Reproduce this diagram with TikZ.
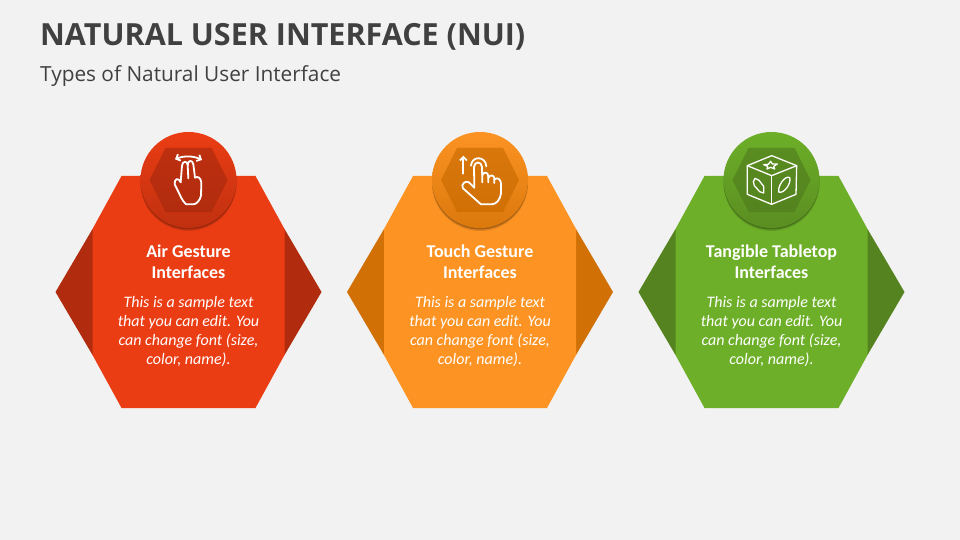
\documentclass[tikz,border=0pt]{standalone}
\usepackage{fontspec}
\usetikzlibrary{arrows.meta}
\setmainfont{Carlito}
\newfontfamily\titlefont{Open Sans}
\definecolor{pagebg}{HTML}{F2F2F2}
\definecolor{titlegray}{HTML}{404040}
\definecolor{airmain}{HTML}{EB3D14}
\definecolor{airdark}{HTML}{B12C0E}
\definecolor{touchmain}{HTML}{FC9323}
\definecolor{touchdark}{HTML}{D07005}
\definecolor{tablemain}{HTML}{6DAF28}
\definecolor{tabledark}{HTML}{54831F}
\tikzset{
  headtext/.style={inner sep=0pt,text=white,align=center,font=\fontsize{18}{21}\selectfont\bfseries},
  bodytext/.style={inner sep=0pt,text=white,align=center,font=\fontsize{16}{19.3}\selectfont\itshape},
  iconline/.style={draw=white,line width=1.8pt,line cap=round,line join=round,>={Straight Barb[length=3.5pt,width=7pt]}},
  cubeline/.style={iconline,line width=1.3pt}
}
\begin{document}
\begin{tikzpicture}[x=1pt,y=-1pt]
  \useasboundingbox (0,0) rectangle (960,540);
  \fill[pagebg] (0,0) rectangle (960,540);
  \node[anchor=west,inner sep=0pt,text=titlegray,font=\fontsize{30.5}{36}\selectfont\titlefont\bfseries] (maintitle) at (40,36.5) {NATURAL USER INTERFACE (NUI)};
  \node[anchor=west,inner sep=0pt,text=titlegray,font=\fontsize{20.8}{24}\selectfont\titlefont] (subtitle) at (40,76) {Types of Natural User Interface};

  \foreach \cx/\kind/\headname in {188.5/air/{Air Gesture\\Interfaces},480/touch/{Touch Gesture\\Interfaces},771.5/table/{Tangible Tabletop\\Interfaces}}{
    \begin{scope}[shift={(\cx,0)}]
      \fill[\kind dark] (-133,292) -- (-96,229) -- (96,229) -- (133,292) -- (96,355) -- (-96,355) -- cycle;
      \fill[\kind main] (-96,229) -- (-67,176) -- (67,176) -- (96,229) -- (96,355) -- (67,408) -- (-67,408) -- (-96,355) -- cycle;
      \fill[black,opacity=.12] (0,183) circle[radius=48];
      \fill[black,opacity=.25] (0,181.5) circle[radius=48];
      \shade[top color=\kind main,bottom color=\kind dark!75!\kind main] (0,180) circle[radius=48];
      \shade[top color=\kind dark!80!\kind main,bottom color=\kind dark] (-39,180) -- (-23,148) -- (23,148) -- (39,180) -- (23,212) -- (-23,212) -- cycle;
      \node[headtext] (head\kind) at (0,261.5) {\headname};
      \node[bodytext] (body\kind) at (0,331.5) {This is a sample text\\that you can edit. You\\can change font (size,\\color, name).};
    \end{scope}
  }

  % swipe hand
  \begin{scope}[shift={(130,125)},scale=1/3]
    \draw[iconline,<->] (135,103) .. controls (160,92) and (190,92) .. (216,105);
    \draw[iconline] (152,172) -- (156,122) .. controls (157,108) and (172,106) .. (173,120) -- (175,160);
    \draw[iconline] (173,120) .. controls (174,104) and (188,104) .. (190,118) -- (195,158) .. controls (205,152) and (212,160) .. (214,172) -- (213,212) .. controls (210,225) and (200,238) .. (190,238) -- (168,238) .. controls (155,225) and (150,210) .. (145,200) -- (134,178) .. controls (132,162) and (145,155) .. (152,172);
  \end{scope}

  % touch hand
  \begin{scope}[shift={(425,125)},scale=1/3]
    \draw[iconline,->] (115,146) -- (115,92);
    \draw[iconline] (138,122) .. controls (140,92) and (182,92) .. (184,124);
    \draw[iconline] (148,188) -- (147,126) .. controls (148,108) and (170,108) .. (171,126) -- (172,172);
    \draw[iconline] (172,150) .. controls (178,138) and (190,142) .. (190,155) -- (190,172);
    \draw[iconline] (190,158) .. controls (196,148) and (207,150) .. (208,160) -- (208,174);
    \draw[iconline] (208,164) .. controls (216,155) and (227,162) .. (228,175) -- (228,205) .. controls (226,222) and (215,238) .. (200,238) -- (168,238) -- (114,190) .. controls (106,178) and (122,165) .. (132,172) -- (148,188);
  \end{scope}

  % cube
  \begin{scope}[shift={(715,125)},scale=1/3]
    \draw[cubeline] (170,92) -- (245,122) -- (243,208) -- (170,238) -- (97,208) -- (97,122) -- cycle;
    \draw[cubeline] (97,122) -- (170,152) -- (245,122);
    \draw[cubeline] (170,152) -- (170,238);
    \draw[cubeline] (146,119) -- (160,118) -- (167,109) -- (172,117) -- (187,117) -- (176,124) -- (179,132) -- (167,127) -- (156,132) -- (158,124) -- cycle;
    \draw[cubeline] (120,160) -- (132,166) -- (146,184) -- (146,204) -- (134,200) -- (118,182) -- (115,170) -- cycle;
    \draw[cubeline] (191,201) .. controls (188,180) and (212,150) .. (224,158) .. controls (230,175) and (206,208) .. (191,201) -- cycle;
  \end{scope}
\end{tikzpicture}
\end{document}
